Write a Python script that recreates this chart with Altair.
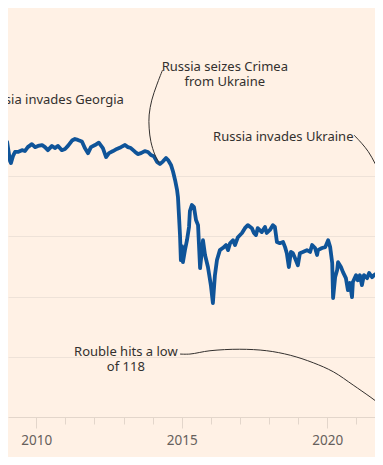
import altair as alt
import pandas as pd

# Rouble per US dollar, x = decimal year
years = [2008.75, 2008.86, 2009.00, 2009.10, 2009.13, 2009.20, 2009.27, 2009.37, 2009.51, 2009.61,
         2009.71, 2009.85, 2009.96, 2010.06, 2010.20, 2010.30, 2010.40, 2010.54, 2010.64, 2010.75,
         2010.88, 2010.99, 2011.09, 2011.23, 2011.33, 2011.43, 2011.57, 2011.67, 2011.78, 2011.88,
         2012.02, 2012.15, 2012.29, 2012.40, 2012.50, 2012.64, 2012.77, 2012.91, 2013.05, 2013.15,
         2013.25, 2013.39, 2013.49, 2013.60, 2013.73, 2013.84, 2013.94, 2014.04, 2014.15, 2014.25,
         2014.35, 2014.46, 2014.53, 2014.63, 2014.70, 2014.77, 2014.84, 2014.87, 2014.90, 2014.94,
         2014.97, 2015.01, 2015.04, 2015.11, 2015.18, 2015.25, 2015.28, 2015.35, 2015.42, 2015.49,
         2015.56, 2015.63, 2015.73, 2015.80, 2015.90, 2016.00, 2016.07, 2016.14, 2016.21, 2016.31,
         2016.41, 2016.52, 2016.59, 2016.66, 2016.76, 2016.83, 2016.93, 2017.07, 2017.17, 2017.27,
         2017.41, 2017.48, 2017.55, 2017.61, 2017.75, 2017.86, 2017.92, 2018.03, 2018.13, 2018.20,
         2018.27, 2018.37, 2018.48, 2018.55, 2018.61, 2018.68, 2018.75, 2018.82, 2018.89, 2018.99,
         2019.06, 2019.16, 2019.30, 2019.41, 2019.48, 2019.58, 2019.65, 2019.68, 2019.82, 2019.93,
         2020.03, 2020.10, 2020.17, 2020.20, 2020.27, 2020.34, 2020.37, 2020.47, 2020.54, 2020.64,
         2020.71, 2020.78, 2020.85, 2020.88, 2020.99, 2021.05, 2021.12, 2021.19, 2021.26, 2021.37,
         2021.44, 2021.54, 2021.61, 2021.71, 2021.78, 2021.88, 2021.95]
rub_per_usd = [25.4, 26.7, 28.7, 35.0, 35.7, 33.4, 32.0, 32.0, 31.4, 31.7,
               30.4, 29.4, 30.4, 30.0, 29.7, 30.4, 31.4, 30.0, 30.7, 30.0,
               31.4, 31.0, 30.0, 28.2, 27.7, 28.0, 28.5, 30.7, 32.4, 30.4,
               29.7, 28.9, 30.7, 33.7, 32.4, 31.7, 31.0, 30.4, 29.7, 30.4,
               30.7, 31.9, 32.7, 32.4, 31.7, 32.0, 33.0, 33.4, 35.3, 36.0,
               35.2, 34.0, 34.7, 36.3, 38.5, 41.3, 44.7, 47.0, 52.3, 59.6,
               67.9, 63.3, 68.6, 64.6, 61.3, 56.9, 51.6, 49.6, 50.3, 54.6,
               56.3, 70.6, 61.3, 66.2, 70.2, 76.2, 82.2, 72.9, 67.9, 64.6,
               63.9, 62.9, 64.6, 62.3, 61.3, 62.9, 60.3, 58.9, 57.3, 56.3,
               57.3, 58.9, 59.6, 57.3, 58.6, 56.9, 58.9, 57.9, 56.3, 56.9,
               61.9, 62.3, 61.9, 63.6, 65.6, 70.2, 65.2, 65.6, 67.2, 69.6,
               65.6, 65.2, 64.6, 65.2, 62.9, 63.9, 66.2, 64.6, 63.9, 63.6,
               61.3, 63.6, 68.9, 80.5, 73.6, 71.2, 68.6, 70.2, 71.9, 73.9,
               77.9, 75.5, 80.2, 75.2, 72.9, 74.6, 72.9, 76.2, 72.9, 73.9,
               72.2, 73.6, 72.9, 72.2, 72.9, 70.2, 74.6]

tick_years = list(range(2009, 2023))
grid_values = [40, 60, 80, 100]

# Annotation labels
right_labels = ["Russia invades Georgia", "Russia invades Ukraine"]
right_years = [2013.01, 2020.90]
right_values = [14.8, 26.9]

center_labels = ["Russia seizes Crimea\nfrom Ukraine", "Rouble hits a low\nof 118"]
center_years = [2016.48, 2013.08]
center_values = [3.8, 98.4]

# Connector curves
crimea_years = [2014.34, 2014.14, 2013.97, 2013.88, 2013.88, 2013.94, 2014.08, 2014.23]
crimea_values = [4.8, 9.8, 14.8, 19.7, 24.1, 28.6, 33.0, 35.8]
ukraine_years = [2020.92, 2021.18, 2021.41, 2021.64, 2021.87, 2022.09]
ukraine_values = [26.4, 29.1, 31.9, 35.8, 40.8, 46.3]
low_years = [2014.94, 2015.28, 2015.97, 2016.99, 2017.92, 2018.73, 2019.52, 2020.21, 2020.89, 2021.47, 2021.87, 2022.2]
low_values = [99.1, 99.1, 98.0, 97.5, 98.0, 99.5, 102.0, 105.0, 109.4, 113.3, 116.1, 118.0]

line_df = pd.DataFrame({"year": years, "value": rub_per_usd})
right_df = pd.DataFrame({"year": right_years, "value": right_values, "label": right_labels})
center_df = pd.DataFrame({"year": center_years, "value": center_values, "label": center_labels})

conn_rows = []
for name, ys, vs in [("crimea", crimea_years, crimea_values),
                     ("ukraine", ukraine_years, ukraine_values),
                     ("low", low_years, low_values)]:
    for i, (yy, vv) in enumerate(zip(ys, vs)):
        conn_rows.append({"group": name, "order": i, "year": yy, "value": vv})
conn_df = pd.DataFrame(conn_rows)

FONT = "Noto Sans"
x_enc = alt.X("year:Q",
              scale=alt.Scale(domain=[2009.03, 2021.64], nice=False, zero=False),
              title=None,
              axis=alt.Axis(values=tick_years,
                            labelExpr="datum.value % 5 == 0 ? format(datum.value, 'd') : ''",
                            tickSize={"condition": {"test": "datum.value % 5 === 0", "value": 11}, "value": 7},
                            tickColor="#E3D6CB", domainColor="#E3D6CB", domainWidth=1,
                            labelColor="#66605C", labelFont=FONT, labelFontSize=13.5,
                            labelPadding=5, grid=False, labelFlush=False, title=None))
y_enc = alt.Y("value:Q",
              scale=alt.Scale(domain=[-15.8, 120], reverse=True, nice=False, zero=False),
              title=None,
              axis=alt.Axis(values=grid_values, labels=False, ticks=False, domain=False,
                            grid=True, gridColor="#EEE2D8", gridWidth=1, title=None))

line = alt.Chart(line_df).mark_line(color="#0F5499", strokeWidth=3.8, clip=True,
                                    strokeJoin="round").encode(x=x_enc, y=y_enc)

conn = alt.Chart(conn_df).mark_line(color="#33302E", strokeWidth=1, interpolate="catmull-rom",
                                    clip=True).encode(
    x=x_enc, y=y_enc, detail="group:N", order="order:Q")

txt_right = alt.Chart(right_df).mark_text(align="right", baseline="middle", font=FONT, fontSize=13,
                                          color="#33302E").encode(x=x_enc, y=y_enc, text="label:N")
txt_center = alt.Chart(center_df).mark_text(align="center", baseline="middle", font=FONT, fontSize=13,
                                            lineBreak="\n", lineHeight=15,
                                            color="#33302E").encode(x=x_enc, y=y_enc, text="label:N")

chart = alt.layer(line, conn, txt_right, txt_center).properties(
    width=367, height=409,
    autosize=alt.AutoSizeParams(type="none"),
    padding={"left": 0, "top": 0, "right": 0, "bottom": 40},
    background="#FFF1E5",
).configure_view(stroke=None)

chart.save("out.html", embed_options={"renderer": "svg", "actions": False})
